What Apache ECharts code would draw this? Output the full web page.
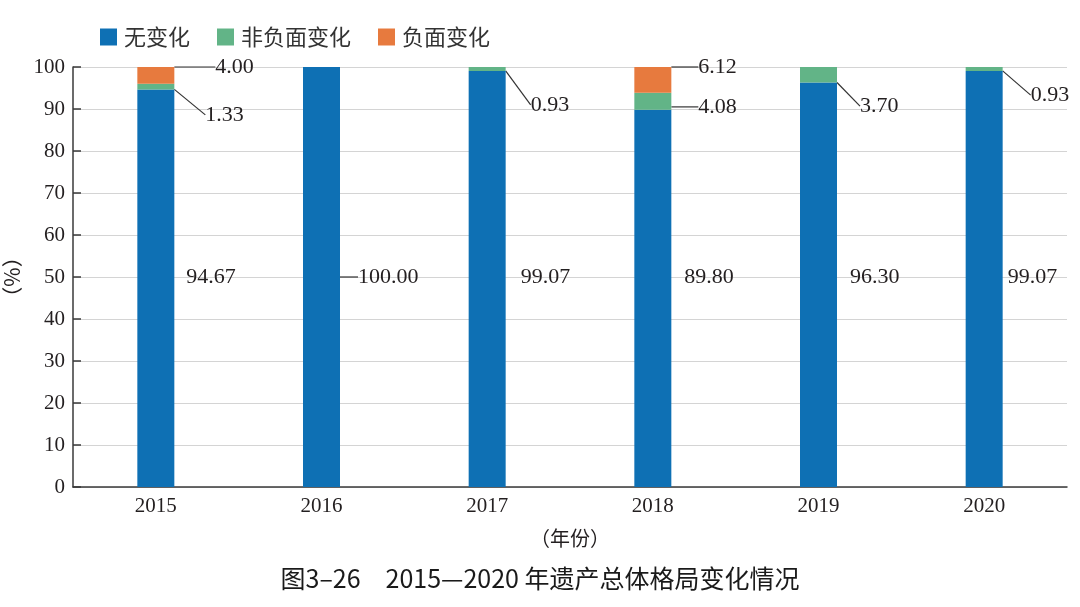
<!DOCTYPE html>
<html>
<head>
<meta charset="utf-8">
<title>2015—2020年遗产总体格局变化情况</title>
<script src="https://cdn.jsdelivr.net/npm/echarts@6/dist/echarts.min.js"></script>
<style>
  html, body { margin: 0; padding: 0; background: #fff; }
  #main { width: 1080px; height: 607px; }
</style>
</head>
<body>
<div id="main"></div>
<script>
// 数据
var years = ['2015', '2016', '2017', '2018', '2019', '2020'];
var noChange = [94.67, 100.00, 99.07, 89.80, 96.30, 99.07];     // 无变化
var nonNegative = [1.33, 0, 0.93, 4.08, 3.70, 0.93];          // 非负面变化
var negative = [4.00, 0, 0, 6.12, 0, 0];                       // 负面变化
var yTicks = [0, 10, 20, 30, 40, 50, 60, 70, 80, 90, 100];

var serif = '"Liberation Serif", "Times New Roman", serif';
var cjk = '"Noto Sans CJK SC", sans-serif';
var ink = '#231f20';

// 标签位置: [起点x比例, 起点y比例(null=与文字同高), 文字距柱右侧, 文字所在刻度值, 折线水平段长, 间隙]
var guides = [
  [[0, 0, 12, 50, 0, 0], [1, null, 18, 50, 8, 2], [0, 0, 15, 50, 0, 0],
   [0, 0, 13, 50, 0, 0], [0, 0, 13, 50, 0, 0], [0, 0, 5, 50, 0, 0]],
  [[1, 0.5, 31, 88.6, 15, 7], null, [0.5, 0.5, 25, 91, 13, 10],
   [1, 0.5, 27, 90.5, 14, 5], [0.5, 1, 23, 90.7, 14, 8], [1, 1, 28, 93.3, 12, 3]],
  [[1, 0.5, 41, 100, 13, 7], null, null, [0.5, 0, 27, 100, 20, 7], null, null]
];

var chart = echarts.init(document.getElementById('main'));

function items(vals, s) {
  return vals.map(function (v, i) {
    var g = guides[s][i];
    if (v === 0) {
      return { value: v, label: { show: false }, labelLine: { show: false } };
    }
    return { value: v, labelLine: { show: !!(g && g[4]) } };
  });
}

function layout(p) {
  var g = guides[p.seriesIndex][p.dataIndex];
  if (!g) return {};
  var r = p.rect;
  var ty = chart.convertToPixel({ yAxisIndex: 0 }, g[3]);
  var tx = r.x + r.width + g[2];
  var res = { x: tx, y: ty, align: 'left', verticalAlign: 'middle' };
  if (g[4]) {
    var sx = r.x + r.width * g[0];
    var sy = g[1] === null ? ty : r.y + r.height * g[1];
    res.labelLinePoints = [[sx, sy], [tx - g[5] - g[4], ty], [tx - g[5], ty]];
  }
  return res;
}

var labelStyle = {
  show: true,
  position: 'right',
  fontFamily: serif,
  fontSize: 22,
  color: ink,
  formatter: function (p) { return p.value.toFixed(2); }
};
var lineStyle = { show: true, lineStyle: { color: '#333', width: 1.2 } };

var names = ['无变化', '非负面变化', '负面变化'];
var colors = ['#0e70b4', '#62b487', '#e77a3e'];
var values = [noChange, nonNegative, negative];

var series = names.map(function (n, s) {
  return {
    name: n,
    type: 'bar',
    stack: 'total',
    barWidth: 37,
    itemStyle: { color: colors[s] },
    label: labelStyle,
    labelLine: lineStyle,
    labelLayout: layout,
    data: items(values[s], s)
  };
});

chart.setOption({
  animation: false,
  color: colors,
  title: {
    text: '图3–26　2015—2020 年遗产总体格局变化情况',
    left: 'center',
    top: 561,
    textStyle: { fontFamily: cjk, fontSize: 25, fontWeight: 'normal', color: '#1a1a1a' }
  },
  legend: {
    left: 95,
    top: 21,
    icon: 'rect',
    itemWidth: 17,
    itemHeight: 17,
    itemGap: 27,
    textStyle: { fontFamily: cjk, fontSize: 22, color: '#333', padding: [0, 0, 0, 2] },
    data: names
  },
  grid: { left: 73, right: 13, top: 67, bottom: 120, outerBoundsMode: 'none' },
  xAxis: {
    type: 'category',
    data: years,
    name: '（年份）',
    nameLocation: 'middle',
    nameGap: 41,
    nameTextStyle: { fontFamily: cjk, fontSize: 20, color: ink },
    axisLine: { lineStyle: { color: '#3a3a3a', width: 1.5 } },
    axisTick: { inside: true, length: 8, lineStyle: { color: '#3a3a3a', width: 1.5 } },
    axisLabel: { fontFamily: serif, fontSize: 21, color: ink, margin: 9 }
  },
  yAxis: {
    type: 'value',
    min: yTicks[0],
    max: yTicks[yTicks.length - 1],
    interval: yTicks[1] - yTicks[0],
    name: '（%）',
    nameLocation: 'middle',
    nameGap: 49,
    nameRotate: 90,
    nameTextStyle: { fontFamily: cjk, fontSize: 21, color: ink },
    axisLine: { show: true, lineStyle: { color: '#3a3a3a', width: 1.5 } },
    axisTick: { show: true, inside: true, length: 8, lineStyle: { color: '#3a3a3a', width: 1.5 } },
    axisLabel: { fontFamily: serif, fontSize: 21, color: ink, margin: 8 },
    splitLine: { lineStyle: { color: '#d4d4d4', width: 1 } }
  },
  series: series
});
</script>
</body>
</html>
